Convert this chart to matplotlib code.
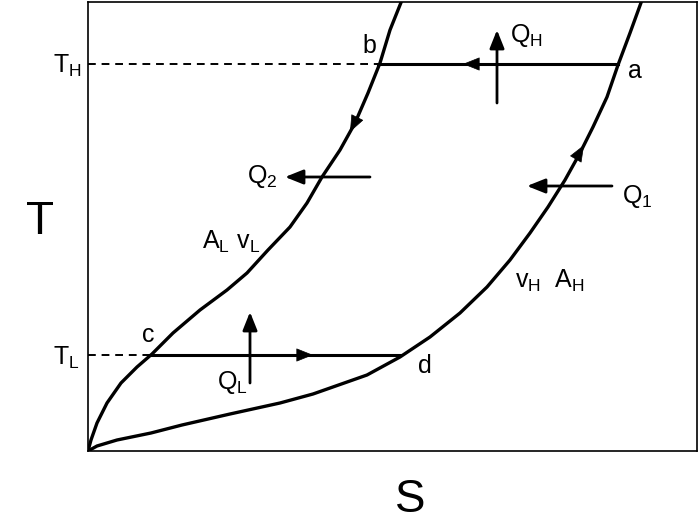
import matplotlib
matplotlib.use("Agg")
import matplotlib.pyplot as plt

plt.rcParams['font.family'] = ['Liberation Sans', 'DejaVu Sans']
plt.rcParams['mathtext.fontset'] = 'custom'
plt.rcParams['mathtext.rm'] = 'Liberation Sans'
plt.rcParams['mathtext.it'] = 'Liberation Sans'

# curve points (S, T)
left_s = [0, 3, 9, 19, 33, 49, 64, 85, 112, 139, 159, 180, 202, 219, 234, 252, 267, 280, 292, 302, 314]
left_t = [0, 11, 28, 48, 68, 84, 97, 118, 141, 161, 178, 201, 224, 248, 274, 301, 328, 358, 388, 421, 451]
right_s = [0, 9, 29, 63, 94, 142, 192, 225, 279, 312, 342, 372, 399, 422, 442, 460, 477, 492, 505, 519, 530, 542, 554]
right_t = [0, 5, 11, 18, 26, 37, 48, 57, 76, 94, 114, 138, 164, 191, 218, 244, 271, 298, 324, 354, 386, 418, 451]

T_high = 387
T_low = 96
s_a, s_b = 530, 290
s_c, s_d = 64, 312

fig = plt.figure(figsize=(7, 5.25), dpi=100)
ax = fig.add_axes([88/700, 74/525, 609/700, 449/525])
ax.set_xlim(0, 609)
ax.set_ylim(0, 449)
ax.set_xticks([])
ax.set_yticks([])
for sp in ax.spines.values():
    sp.set_linewidth(1.2)

ax.plot(left_s, left_t, color='k', lw=2.4, solid_joinstyle='round')
ax.plot(right_s, right_t, color='k', lw=2.4, solid_joinstyle='round')

# isotherms
ax.plot([0, s_b], [T_high, T_high], color='k', lw=1.4, ls=(0, (4, 3)))
ax.plot([s_b, s_a], [T_high, T_high], color='k', lw=2.2)
ax.plot([0, s_c], [T_low, T_low], color='k', lw=1.4, ls=(0, (4, 3)))
ax.plot([s_c, s_d], [T_low, T_low], color='k', lw=2.2)

def head(p0, p1):
    ax.annotate('', xy=p1, xytext=p0,
                arrowprops=dict(arrowstyle='-|>,head_length=0.55,head_width=0.22',
                                color='k', lw=0.5, mutation_scale=20,
                                shrinkA=0, shrinkB=0))

def arrow(p0, p1):
    ax.annotate('', xy=p1, xytext=p0,
                arrowprops=dict(arrowstyle='-|>,head_length=0.55,head_width=0.22',
                                color='k', lw=2, mutation_scale=20,
                                shrinkA=0, shrinkB=0))

# direction marks on the cycle
head((395, T_high), (375, T_high))
head((205, T_low), (225, T_low))
head((268, 331), (262, 319))
head((489, 294), (496, 306))

# heat flows
arrow((409, 348), (409, 421))
arrow((162, 68), (162, 139))
arrow((282, 274), (197, 274))
arrow((524, 265), (439, 265))

fs = 18
ax.text(-48, 229, 'T', fontsize=33, ha='center', va='center', clip_on=False)
ax.text(322, -49, 'S', fontsize=33, ha='center', va='center', clip_on=False)
ax.text(-35, 378, r'$\mathregular{T_H}$', fontsize=fs, ha='left', va='baseline', clip_on=False)
ax.text(-35, 86, r'$\mathregular{T_L}$', fontsize=fs, ha='left', va='baseline', clip_on=False)
ax.text(274, 398, 'b', fontsize=fs, ha='left', va='baseline')
ax.text(540, 373, 'a', fontsize=fs, ha='left', va='baseline')
ax.text(54, 109, 'c', fontsize=fs, ha='left', va='baseline')
ax.text(330, 78, 'd', fontsize=fs, ha='left', va='baseline')
ax.text(422, 409, r'$\mathregular{Q_H}$', fontsize=fs, ha='left', va='baseline')
ax.text(159, 268, r'$\mathregular{Q_2}$', fontsize=fs, ha='left', va='baseline')
ax.text(534, 248, r'$\mathregular{Q_1}$', fontsize=fs, ha='left', va='baseline')
ax.text(129, 62, r'$\mathregular{Q_L}$', fontsize=fs, ha='left', va='baseline')
ax.text(114, 202, r'$\mathregular{A_L\ v_L}$', fontsize=fs, ha='left', va='baseline')
ax.text(427, 163, r'$\mathregular{v_H\ \ A_H}$', fontsize=fs, ha='left', va='baseline')

fig.savefig('out.png', dpi=100)
